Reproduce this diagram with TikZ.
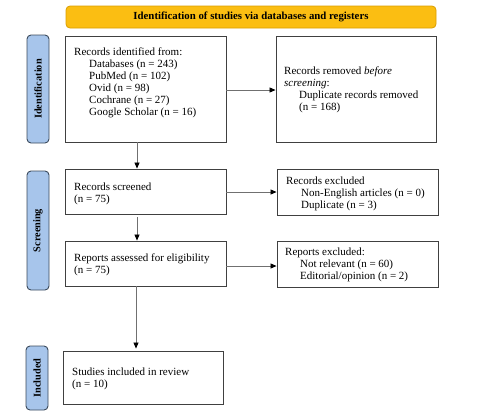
\documentclass[tikz,border=0pt]{standalone}
\usepackage{fontspec}
\setmainfont{Liberation Serif}
\usetikzlibrary{arrows.meta,calc}
\definecolor{gold}{HTML}{FBBE12}
\definecolor{goldline}{HTML}{D99E00}
\definecolor{sideblue}{HTML}{A7C5EB}
\definecolor{sideline}{HTML}{3B4A5C}
\definecolor{boxline}{HTML}{404040}
\definecolor{arrline}{HTML}{707070}
\tikzset{
  box/.style={draw=boxline, line width=0.9pt, fill=white, inner sep=0pt},
  txt/.style={inner sep=0pt, align=left, anchor=west, font=\fontsize{11}{12}\selectfont},
  side/.style={draw=sideline, line width=0.9pt, fill=sideblue, rounded corners=4pt, inner sep=0pt},
  sidetxt/.style={inner sep=0pt, rotate=90, font=\fontsize{10.3}{12}\selectfont\bfseries},
  banner/.style={draw=goldline, line width=0.8pt, fill=gold, rounded corners=4pt, inner sep=0pt,
     font=\fontsize{10.8}{12}\selectfont\bfseries},
  arr/.style={draw=arrline, line width=0.8pt, -{Triangle[length=6pt,width=5pt,color=black]}}
}
\newcommand{\ind}{\hspace*{15pt}}
\begin{document}
\begin{tikzpicture}[x=1pt,y=-1pt]
\useasboundingbox (0,0) rectangle (480,416);
% banner
\node[banner, minimum width=370pt, minimum height=22pt] (ban) at (251,17) {Identification of studies via databases and registers};
% side bars
\node[side, minimum width=22pt, minimum height=108pt] (s1) at (38,89) {};
\node[sidetxt] (s1t) at (s1) {Identification};
\node[side, minimum width=22pt, minimum height=119pt] (s2) at (38,230.5) {};
\node[sidetxt] (s2t) at (s2) {Screening};
\node[side, minimum width=22pt, minimum height=64pt] (s3) at (37,378) {};
\node[sidetxt] (s3t) at (s3) {Included};
% boxes
\node[box, minimum width=161pt, minimum height=106pt] (b1) at (145.5,89) {};
\node[box, minimum width=160pt, minimum height=106pt] (b2) at (356,89) {};
\node[box, minimum width=161pt, minimum height=45pt] (b3) at (145.5,191.5) {};
\node[box, minimum width=161pt, minimum height=46pt] (b4) at (357.5,192) {};
\node[box, minimum width=161pt, minimum height=45pt] (b5) at (145.5,263.5) {};
\node[box, minimum width=161pt, minimum height=46pt] (b6) at (357.5,264) {};
\node[box, minimum width=160pt, minimum height=53pt] (b7) at (143,377.5) {};
% texts
\node[txt] (t1) at (74,83) {Records identified from:\\\ind Databases (n = 243)\\\ind PubMed (n = 102)\\\ind Ovid (n = 98)\\\ind Cochrane (n = 27)\\\ind Google Scholar (n = 16)};
\node[txt] (t2) at (284,89.5) {Records removed \textit{before}\\\textit{screening}:\\\ind Duplicate records removed\\\ind (n = 168)};
\node[txt] (t3) at (74,193.5) {Records screened\\(n = 75)};
\node[txt] (t4) at (286,194) {Records excluded\\\ind Non-English articles (n = 0)\\\ind Duplicate (n = 3)};
\node[txt] (t5) at (74,264.5) {Reports assessed for eligibility\\(n = 75)};
\node[txt] (t6) at (285,265) {Reports excluded:\\\ind Not relevant (n = 60)\\\ind Editorial/opinion (n = 2)};
\node[txt] (t7) at (72,379) {Studies included in review\\(n = 10)};
% arrows
\coordinate (ax) at (137,0);
\coordinate (ax2) at (136,0);
\draw[arr] (b1.east |- 0,90) -- (b2.west |- 0,90);
\draw[arr] (b3.east |- 0,192) -- (b4.west |- 0,192);
\draw[arr] (b5.east |- 0,266) -- (b6.west |- 0,266);
\draw[arr] (b1.south -| ax) -- (b3.north -| ax);
\draw[arr] ($(b3.south -| ax)+(0,3)$) -- (b5.north -| ax);
\draw[arr] (b5.south -| ax2) -- ($(b7.north -| ax2)+(0,-2)$);
\end{tikzpicture}
\end{document}
